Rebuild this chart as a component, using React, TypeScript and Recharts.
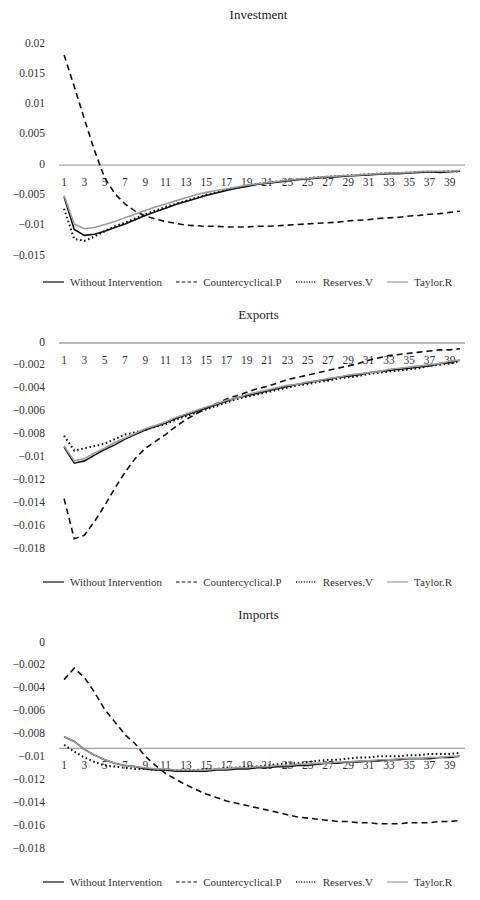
import React from 'react';
import { LineChart, Line, XAxis, YAxis, ReferenceLine } from 'recharts';

const FONT = '"Liberation Serif", "DejaVu Serif", "Times New Roman", serif';

const periods = [1, 2, 3, 4, 5, 6, 7, 8, 9, 10, 11, 12, 13, 14, 15, 16, 17, 18, 19, 20, 21, 22, 23, 24, 25, 26, 27, 28, 29, 30, 31, 32, 33, 34, 35, 36, 37, 38, 39, 40];
const periodLabels = [1, 3, 5, 7, 9, 11, 13, 15, 17, 19, 21, 23, 25, 27, 29, 31, 33, 35, 37, 39];

const seriesNames = ['Without Intervention', 'Countercyclical.P', 'Reserves.V', 'Taylor.R'];

const investmentTicks = [0.02, 0.015, 0.01, 0.005, 0, -0.005, -0.01, -0.015];
const tradeTicks = [0, -0.002, -0.004, -0.006, -0.008, -0.01, -0.012, -0.014, -0.016, -0.018];

// Investment
const invWithout = [-0.0052, -0.0106, -0.0116, -0.0114, -0.0109, -0.0103, -0.0097, -0.009, -0.0083, -0.0077, -0.0071, -0.0065, -0.006, -0.0055, -0.005, -0.0046, -0.0042, -0.0038, -0.0035, -0.0032, -0.003, -0.0028, -0.0026, -0.0024, -0.0023, -0.0021, -0.002, -0.0019, -0.0018, -0.0017, -0.0016, -0.0015, -0.0014, -0.0014, -0.0013, -0.0012, -0.0011, -0.0012, -0.0011, -0.001];
const invCounter = [0.0182, 0.013, 0.0076, 0.0024, -0.0021, -0.0047, -0.0064, -0.0076, -0.0084, -0.0089, -0.0093, -0.0096, -0.0099, -0.01, -0.0101, -0.0101, -0.0102, -0.0102, -0.0102, -0.0101, -0.0101, -0.01, -0.0099, -0.0098, -0.0097, -0.0096, -0.0095, -0.0094, -0.0092, -0.0091, -0.009, -0.0088, -0.0087, -0.0086, -0.0084, -0.0083, -0.0081, -0.008, -0.0078, -0.0076];
const invReserves = [-0.0072, -0.0122, -0.0125, -0.0118, -0.0109, -0.0101, -0.0095, -0.0088, -0.0081, -0.0075, -0.0069, -0.0064, -0.0059, -0.0054, -0.0049, -0.0045, -0.0041, -0.0037, -0.0034, -0.0031, -0.0029, -0.0027, -0.0025, -0.0023, -0.0022, -0.002, -0.0019, -0.0018, -0.0017, -0.0016, -0.0015, -0.0014, -0.0013, -0.0013, -0.0012, -0.0011, -0.0011, -0.0011, -0.001, -0.001];
const invTaylor = [-0.005, -0.0097, -0.0105, -0.0103, -0.0098, -0.0093, -0.0087, -0.0081, -0.0075, -0.0069, -0.0064, -0.0059, -0.0054, -0.0049, -0.0045, -0.0042, -0.0039, -0.0036, -0.0033, -0.0031, -0.0029, -0.0027, -0.0025, -0.0023, -0.0022, -0.002, -0.0019, -0.0018, -0.0017, -0.0016, -0.0015, -0.0014, -0.0013, -0.0013, -0.0012, -0.0011, -0.001, -0.001, -0.001, -0.0009];

// Exports
const expWithout = [-0.0091, -0.0105, -0.0103, -0.0098, -0.0093, -0.0089, -0.0084, -0.008, -0.0076, -0.0073, -0.007, -0.0066, -0.0063, -0.006, -0.0057, -0.0054, -0.0051, -0.0048, -0.0046, -0.0044, -0.0042, -0.004, -0.0038, -0.0036, -0.0035, -0.0033, -0.0032, -0.003, -0.0029, -0.0028, -0.0026, -0.0025, -0.0024, -0.0023, -0.0022, -0.0021, -0.002, -0.0018, -0.0017, -0.0015];
const expCounter = [-0.0136, -0.0171, -0.0168, -0.0156, -0.0142, -0.0127, -0.0113, -0.0101, -0.0092, -0.0086, -0.008, -0.0073, -0.0067, -0.0062, -0.0057, -0.0053, -0.0049, -0.0046, -0.0043, -0.004, -0.0038, -0.0035, -0.0032, -0.003, -0.0028, -0.0026, -0.0024, -0.0022, -0.002, -0.0018, -0.0015, -0.0013, -0.0011, -0.001, -0.0009, -0.0008, -0.0007, -0.0006, -0.0006, -0.0005];
const expReserves = [-0.0081, -0.0094, -0.0092, -0.009, -0.0088, -0.0084, -0.008, -0.0078, -0.0076, -0.0073, -0.0071, -0.0067, -0.0064, -0.0061, -0.0058, -0.0055, -0.0052, -0.0049, -0.0047, -0.0045, -0.0043, -0.0041, -0.0039, -0.0037, -0.0036, -0.0034, -0.0033, -0.0031, -0.003, -0.0029, -0.0027, -0.0026, -0.0025, -0.0024, -0.0023, -0.0022, -0.002, -0.0019, -0.0018, -0.0016];
const expTaylor = [-0.009, -0.0103, -0.0101, -0.0096, -0.0092, -0.0087, -0.0083, -0.0079, -0.0075, -0.0072, -0.0069, -0.0065, -0.0062, -0.0059, -0.0056, -0.0053, -0.005, -0.0048, -0.0045, -0.0043, -0.0041, -0.0039, -0.0037, -0.0036, -0.0034, -0.0033, -0.0031, -0.003, -0.0028, -0.0027, -0.0026, -0.0025, -0.0023, -0.0022, -0.0021, -0.002, -0.0019, -0.0018, -0.0016, -0.0015];

// Imports
const impWithout = [-0.0082, -0.0086, -0.0093, -0.0098, -0.0102, -0.0105, -0.0107, -0.0108, -0.011, -0.0111, -0.0111, -0.0112, -0.0112, -0.0112, -0.0112, -0.0111, -0.0111, -0.011, -0.011, -0.0109, -0.0109, -0.0108, -0.0108, -0.0107, -0.0107, -0.0106, -0.0105, -0.0105, -0.0104, -0.0104, -0.0103, -0.0103, -0.0102, -0.0102, -0.0101, -0.0101, -0.0101, -0.01, -0.01, -0.0099];
const impCounter = [-0.0032, -0.0022, -0.003, -0.0043, -0.0058, -0.0069, -0.008, -0.0088, -0.0099, -0.0107, -0.0114, -0.0119, -0.0124, -0.0128, -0.0132, -0.0135, -0.0138, -0.014, -0.0142, -0.0144, -0.0146, -0.0148, -0.015, -0.0152, -0.0153, -0.0154, -0.0155, -0.0156, -0.0156, -0.0157, -0.0157, -0.0158, -0.0158, -0.0158, -0.0157, -0.0157, -0.0157, -0.0156, -0.0156, -0.0155];
const impReserves = [-0.0089, -0.0095, -0.01, -0.0104, -0.0107, -0.0108, -0.0109, -0.011, -0.011, -0.0111, -0.0111, -0.0111, -0.0111, -0.0111, -0.011, -0.011, -0.0109, -0.0109, -0.0108, -0.0108, -0.0107, -0.0106, -0.0105, -0.0105, -0.0104, -0.0103, -0.0102, -0.0102, -0.0101, -0.01, -0.01, -0.0099, -0.0099, -0.0099, -0.0098, -0.0098, -0.0097, -0.0097, -0.0097, -0.0096];
const impTaylor = [-0.0082, -0.0086, -0.0093, -0.0098, -0.0102, -0.0105, -0.0107, -0.0108, -0.0109, -0.011, -0.011, -0.0111, -0.0111, -0.0111, -0.0111, -0.011, -0.011, -0.0109, -0.0109, -0.0108, -0.0108, -0.0107, -0.0107, -0.0106, -0.0106, -0.0105, -0.0105, -0.0104, -0.0104, -0.0103, -0.0103, -0.0102, -0.0102, -0.0101, -0.0101, -0.0101, -0.01, -0.01, -0.0099, -0.0099];

const SERIES = [
  { key: 'without', name: seriesNames[0], stroke: '#111111', width: 1.6, dash: undefined as string | undefined },
  { key: 'counter', name: seriesNames[1], stroke: '#111111', width: 1.6, dash: '6 4' },
  { key: 'reserves', name: seriesNames[2], stroke: '#111111', width: 2, dash: '1.6 2.6' },
  { key: 'taylor', name: seriesNames[3], stroke: '#9c9c9c', width: 1.6, dash: undefined as string | undefined },
];

function buildRows(a: number[], b: number[], c: number[], d: number[]) {
  return periods.map((t, i) => ({ t, without: a[i], counter: b[i], reserves: c[i], taylor: d[i] }));
}

const fmt = (v: number) => String(v).replace('-', '\u2212');

const X_MIN = 0.5;
const X_MAX = 40.5;

function XTickRow(props: any) {
  const vb = props.viewBox || {};
  const { x = 0, y = 0, width = 0 } = vb;
  return (
    <g>
      {periodLabels.map((p) => (
        <text
          key={p}
          x={x + ((p - X_MIN) / (X_MAX - X_MIN)) * width}
          y={y + 17}
          dy="0.36em"
          textAnchor="middle"
          fontFamily={FONT}
          fontSize={11.5}
          fill="#333333"
        >
          {p}
        </text>
      ))}
    </g>
  );
}

function LegendRow() {
  return (
    <div
      style={{
        position: 'absolute',
        left: 43,
        top: 275,
        display: 'flex',
        alignItems: 'center',
        fontFamily: FONT,
        fontSize: 11,
        lineHeight: '14px',
        color: '#333333',
        whiteSpace: 'nowrap',
      }}
    >
      {SERIES.map((s, i) => (
        <div key={s.key} style={{ display: 'flex', alignItems: 'center', marginRight: i < SERIES.length - 1 ? 14 : 0 }}>
          <svg width={21} height={6} style={{ marginRight: 6 }}>
            <line x1={0} y1={3} x2={21} y2={3} stroke={s.stroke} strokeWidth={s.key === 'reserves' ? 1.4 : 1.2} strokeDasharray={s.key === 'counter' ? '3.5 2.3' : s.key === 'reserves' ? '1 1.6' : undefined} />
          </svg>
          <span>{s.name}</span>
        </div>
      ))}
    </div>
  );
}

type PanelProps = {
  title: string;
  rows: any[];
  domain: [number, number];
  ticks: number[];
  cross: number;
  top: number;
  bottom: number;
};

function Panel({ title, rows, domain, ticks, cross, top, bottom }: PanelProps) {
  return (
    <div style={{ position: 'relative', width: 480, height: 300 }}>
      <div
        style={{
          position: 'absolute',
          left: 0,
          width: 517,
          top: 7,
          textAlign: 'center',
          fontFamily: FONT,
          fontSize: 13,
          lineHeight: '16px',
          color: '#222222',
        }}
      >
        {title}
      </div>
      <LineChart width={480} height={300} data={rows} margin={{ top, right: 15, bottom, left: 0 }}>
        <XAxis type="number" dataKey="t" domain={[X_MIN, X_MAX]} hide allowDataOverflow />
        <YAxis
          type="number"
          domain={domain}
          ticks={ticks}
          interval={0}
          width={59}
          axisLine={false}
          tickLine={false}
          tickSize={6}
          tickMargin={8}
          allowDataOverflow
          tickFormatter={fmt}
          tick={{ fontFamily: FONT, fontSize: 11.5, fill: '#333333', dy: -1.5 }}
        />
        <ReferenceLine
          y={cross}
          stroke="#a3a3a3"
          strokeWidth={1.3}
          ifOverflow="extendDomain"
          label={(p: any) => <XTickRow viewBox={p.viewBox} />}
        />
        {SERIES.map((s) => (
          <Line
            key={s.key}
            dataKey={s.key}
            name={s.name}
            type="linear"
            stroke={s.stroke}
            strokeWidth={s.width}
            strokeDasharray={s.dash}
            dot={false}
            activeDot={false}
            isAnimationActive={false}
          />
        ))}
      </LineChart>
      <LegendRow />
    </div>
  );
}

export default function App() {
  return (
    <div style={{ position: 'absolute', left: 0, top: 0, width: 480, height: 900, background: '#ffffff' }}>
      <Panel
        title="Investment"
        rows={buildRows(invWithout, invCounter, invReserves, invTaylor)}
        domain={[-0.015, 0.02]}
        ticks={investmentTicks}
        cross={0}
        top={44}
        bottom={44}
      />
      <Panel
        title="Exports"
        rows={buildRows(expWithout, expCounter, expReserves, expTaylor)}
        domain={[-0.018, 0]}
        ticks={tradeTicks}
        cross={0}
        top={43}
        bottom={51}
      />
      <Panel
        title="Imports"
        rows={buildRows(impWithout, impCounter, impReserves, impTaylor)}
        domain={[-0.018, 0]}
        ticks={tradeTicks}
        cross={-0.0092}
        top={43}
        bottom={51}
      />
    </div>
  );
}
